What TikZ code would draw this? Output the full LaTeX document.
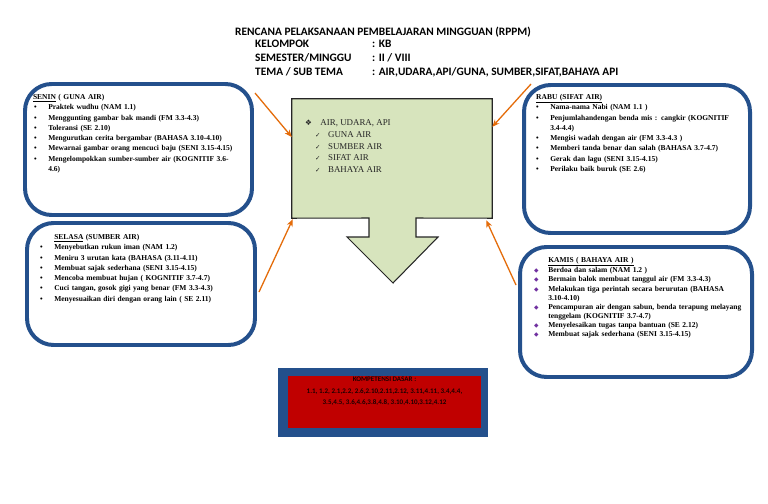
\documentclass[tikz,border=0pt]{standalone}
\usepackage{fontspec}
\setmainfont{Liberation Serif}
\newfontfamily\calib{Carlito}
\newfontfamily\dejavu{DejaVu Sans}
\usepackage{xcolor}
\usetikzlibrary{arrows.meta,calc,fit}
\definecolor{rim}{HTML}{24508C}
\definecolor{org}{HTML}{E46C0A}
\definecolor{leaf}{HTML}{D7E4BD}
\definecolor{kd}{HTML}{C00000}
\definecolor{dia}{HTML}{7030A0}
\tikzset{
  day/.style={draw=rim, line width=3.4pt, rounded corners=0.8cm, fill=white, inner sep=0pt},
  list/.style={anchor=north west, inner sep=0pt, text width=7cm, align=left, font=\fontsize{6.4}{#1}\selectfont\bfseries},
  hdr/.style={anchor=base west, inner sep=0pt, font=\calib\fontsize{9.7}{11}\selectfont\bfseries},
  shaft/.style={fill=leaf, draw=black!85, line width=0.9pt},
  tematxt/.style={anchor=north west, inner sep=0pt, align=left, text=black!85, font=\fontsize{7.6}{10.2}\selectfont},
  kdtxt/.style={anchor=north, inner sep=0pt, align=center, text=black!85!kd, font=\calib\fontsize{6}{9.8}\selectfont\bfseries},
  link/.style={-{Stealth[length=2.2mm,width=1.8mm]}, draw=org, line width=1.1pt},
}
\newcommand{\itm}[1]{\par\noindent\makebox[12pt][l]{\textbullet}#1}
\newcommand{\ditm}[1]{\par\noindent\makebox[12pt][l]{\color{dia}\dejavu\fontsize{5}{5}\selectfont ◆}#1}
\newcommand{\cont}{\par\noindent\hspace*{12pt}}
\newcommand{\chk}[1]{\\\hspace*{8.5pt}\makebox[11pt][l]{\dejavu\fontsize{5.5}{5}\selectfont ✓}#1}
\begin{document}
\begin{tikzpicture}[x=0.03cm,y=-0.03cm]
  \useasboundingbox[fill=white] (0,0) rectangle (768,503);
  \node[hdr] (title) at (235,35) {RENCANA PELAKSANAAN PEMBELAJARAN MINGGUAN (RPPM)};
  \node[hdr] (kel) at (255,47) {KELOMPOK};
  \node[hdr] (kel-v) at (372,47) {: KB};
  \node[hdr] (sem) at (255,61) {SEMESTER/MINGGU};
  \node[hdr] (sem-v) at (372,61) {: II / VIII};
  \node[hdr] (tem) at (255,75) {TEMA / SUB TEMA};
  \node[hdr] (tem-v) at (372,75) {: AIR,UDARA,API/GUNA, SUMBER,SIFAT,BAHAYA API};

  \node[day, fit={(25,84) (252,215)}] (senin) {};
  \node[day, fit={(27,223) (255,345)}] (selasa) {};
  \node[day, fit={(524,85) (750,233)}] (rabu) {};
  \node[day, fit={(520,247) (752,377)}] (kamis) {};

  \node[fit={(292,99) (492,218)}, inner sep=0pt] (tema) {};
  \draw[shaft] (tema.north west) -- (tema.north east) -- (tema.south east) -- (416,218) -- (416,237)
    -- (438,237) -- (393,283) -- (347,237) -- (369,237) -- (369,218) -- (tema.south west) -- cycle;
  \node[tematxt] (tema-txt) at (305,119) {%
    \makebox[13pt][l]{\dejavu\fontsize{6.5}{5}\selectfont ❖}AIR, UDARA, API
    \chk{GUNA AIR}\chk{SUMBER AIR}\chk{SIFAT AIR}\chk{BAHAYA AIR}};

  \node[list=8.8pt] (senin-txt) at (34,94) {%
    \noindent\hspace*{-1pt}\underline{SENIN} ( GUNA AIR)
    \itm{Praktek wudhu (NAM 1.1)}
    \itm{Menggunting gambar bak mandi (FM 3.3-4.3)}
    \itm{Toleransi (SE 2.10)}
    \itm{Mengurutkan cerita bergambar (BAHASA 3.10-4.10)}
    \itm{Mewarnai gambar orang mencuci baju (SENI 3.15-4.15)}
    \itm{Mengelompokkan sumber-sumber air (KOGNITIF 3.6-}\cont 4.6)};
  \node[list=8.8pt] (selasa-txt) at (40,234) {%
    \noindent\hspace*{12pt}\underline{SELASA} (SUMBER AIR)
    \itm{Menyebutkan rukun iman (NAM 1.2)}
    \itm{Meniru 3 urutan kata (BAHASA (3.11-4.11)}
    \itm{Membuat sajak sederhana (SENI 3.15-4.15)}
    \itm{Mencoba membuat hujan ( KOGNITIF 3.7-4.7)}
    \itm{Cuci tangan, gosok gigi yang benar (FM 3.3-4.3)}
    \itm{Menyesuaikan diri dengan orang lain ( SE 2.11)}};
  \node[list=8.8pt] (rabu-txt) at (536,94) {%
    \noindent\underline{RABU (SIFAT AIR)}
    \itm{Nama-nama Nabi (NAM 1.1 )}
    \itm{Penjumlahandengan benda mis : cangkir (KOGNITIF}\cont 3.4-4.4)
    \itm{Mengisi wadah dengan air (FM 3.3-4.3 )}
    \itm{Memberi tanda benar dan salah (BAHASA 3.7-4.7)}
    \itm{Gerak dan lagu (SENI 3.15-4.15)}
    \itm{Perilaku baik buruk (SE 2.6)}};
  \node[list=7.8pt] (kamis-txt) at (534,257) {%
    \noindent\hspace*{12pt}\underline{KAMIS ( BAHAYA AIR )}
    \ditm{Berdoa dan salam (NAM 1.2 )}
    \ditm{Bermain balok membuat tanggul air (FM 3.3-4.3)}
    \ditm{Melakukan tiga perintah secara berurutan (BAHASA}\cont 3.10-4.10)
    \ditm{Pencampuran air dengan sabun, benda terapung melayang}\cont tenggelam (KOGNITIF 3.7-4.7)
    \ditm{Menyelesaikan tugas tanpa bantuan (SE 2.12)}
    \ditm{Membuat sajak sederhana (SENI 3.15-4.15)}};

  \node[fit={(278,368) (488,437)}, fill=rim, inner sep=0pt] (kd-out) {};
  \node[fit={(288,376) (481,428)}, fill=kd, inner sep=0pt] (kd-in) {};
  \node[kdtxt] (kd-txt) at (384.5,377) {KOMPETENSI DASAR :\\
    1.1, 1.2, 2.1,2.2, 2.6,2.10,2.11,2.12, 3.11,4.11, 3.4,4.4,\\
    3.5,4.5, 3.6,4.6,3.8,4.8, 3.10,4.10,3.12,4.12};

  \draw[link] ($(senin.north east)+(1,11)$) -- ($(tema.north west)!0.32!(tema.south west)$);
  \draw[link] ($(selasa.east)+(2,8)$) -- ($(tema.south west)+(1,1)$);
  \draw[link] ($(rabu.north west)+(9,1)$) -- ($(tema.north east)!0.235!(tema.south east)$);
  \draw[link] ($(kamis.west)+(-2,-27)$) -- ($(tema.south east)+(-6,2)$);
\end{tikzpicture}
\end{document}
